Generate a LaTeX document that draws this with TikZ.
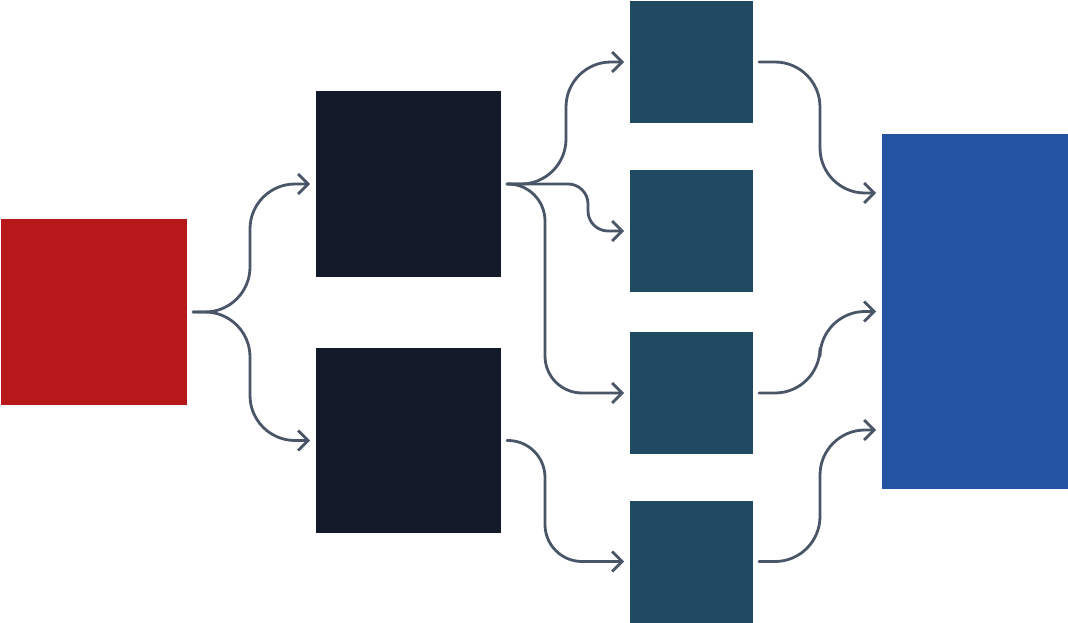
\documentclass[tikz,border=0pt]{standalone}
\usetikzlibrary{arrows.meta}
\definecolor{cred}{HTML}{B7181A}
\definecolor{cdark}{HTML}{131A29}
\definecolor{cteal}{HTML}{1F4A61}
\definecolor{cblue}{HTML}{2553A4}
\definecolor{cline}{HTML}{4A5568}
\tikzset{
  box/.style={draw=none,inner sep=0pt,outer sep=0pt,rectangle},
  conn/.style={draw=cline,line width=2.8pt,line cap=round,line join=round,
    -{Straight Barb[length=10pt,width=20pt,line width=2.8pt]}},
}
\begin{document}
\begin{tikzpicture}[x=1pt,y=-1pt]
\useasboundingbox (0,0) rectangle (1068,623);
\node[box,fill=cred,minimum width=186pt,minimum height=186pt] (r) at (94,312) {};
\node[box,fill=cdark,minimum width=185pt,minimum height=186pt] (d1) at (408.5,184) {};
\node[box,fill=cdark,minimum width=185pt,minimum height=185pt] (d2) at (408.5,440.5) {};
\node[box,fill=cteal,minimum width=123pt,minimum height=122pt] (t1) at (691.5,62) {};
\node[box,fill=cteal,minimum width=123pt,minimum height=122pt] (t2) at (691.5,231) {};
\node[box,fill=cteal,minimum width=123pt,minimum height=122pt] (t3) at (691.5,393) {};
\node[box,fill=cteal,minimum width=123pt,minimum height=122pt] (t4) at (691.5,561.5) {};
\node[box,fill=cblue,minimum width=186pt,minimum height=355pt] (b) at (975,311.5) {};
% red to dark
\draw[conn,rounded corners=45pt] ([xshift=6pt]r.east) -- ++(57,0) |- ([xshift=-6pt]d1.west);
\draw[conn,rounded corners=45pt] ([xshift=6pt]r.east) -- ++(57,0) |- ([xshift=-6pt]d2.west);
% dark1 to teals
\draw[conn,rounded corners=45pt] ([xshift=6pt]d1.east) -- ++(59,0) |- ([xshift=-6pt]t1.west);
\draw[conn,rounded corners=20pt] ([xshift=6pt]d1.east) -- ++(81,0) |- ([xshift=-6pt]t2.west);
\draw[conn,rounded corners=37pt] ([xshift=6pt]d1.east) -- ++(38,0) |- ([xshift=-6pt]t3.west);
% dark2 to teal4
\draw[conn,rounded corners=37pt] ([xshift=6pt]d2.east) -- ++(38,0) |- ([xshift=-6pt]t4.west);
% teals to blue
\draw[conn,rounded corners=45pt] ([xshift=6pt]t1.east) -- ++(61,0) |- ([xshift=-6pt,yshift=118.5pt]b.west);
\draw[conn,rounded corners=45pt] ([xshift=6pt]t3.east) -- ++(61,0) |- ([xshift=-6pt]b.west);
\draw[conn,rounded corners=45pt] ([xshift=6pt]t4.east) -- ++(61,0) |- ([xshift=-6pt,yshift=-118.5pt]b.west);
\end{tikzpicture}
\end{document}
